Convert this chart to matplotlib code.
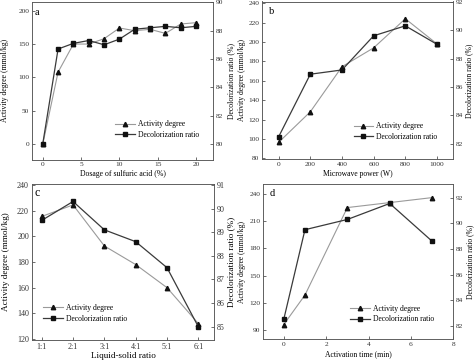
import numpy as np
import matplotlib
matplotlib.use("Agg")
import matplotlib.pyplot as plt

plt.rcParams["font.family"] = ["Liberation Serif", "DejaVu Serif"]

# a - dosage of sulfuric acid
acid_dose = [0, 2, 4, 6, 8, 10, 12, 14, 16, 18, 20]
acid_activity = [0, 108, 150, 150, 158, 174, 170, 172, 166, 180, 182]
acid_decolor = [80.0, 86.7, 87.1, 87.3, 87.0, 87.4, 88.1, 88.2, 88.3, 88.2, 88.3]

# b - microwave power
power = [0, 200, 400, 600, 800, 1000]
power_activity = [96.5, 128, 174.5, 194, 224, 198]
power_decolor = [82.5, 86.9, 87.2, 89.6, 90.3, 89.0]

# c - liquid-solid ratio
ratio_labels = ["1:1", "2:1", "3:1", "4:1", "5:1", "6:1"]
ratio_activity = [215.5, 224.5, 192.5, 178, 160, 132]
ratio_decolor = [89.5, 90.3, 89.1, 88.6, 87.5, 85.0]

# d - activation time
act_time = [0, 1, 3, 5, 7]
time_activity = [96, 128.5, 225, 230.5, 236]
time_decolor = [82.5, 89.5, 90.3, 91.55, 88.6]

W, H = 474, 361
fig = plt.figure(figsize=(W / 100, H / 100), dpi=100)


def panel(box, x, act, dec, xlim, ylim, y2lim, xticks, yticks, y2ticks,
          xlabel, letter, letter_xy, leg_xy, ylab_x, fs_tick, fs_lab,
          xticklabels=None, xpad=2):
    L, R, T, B = box
    ax = fig.add_axes([L / W, (H - B) / H, (R - L) / W, (B - T) / H])
    ax2 = ax.twinx()
    l1, = ax.plot(x, act, color="#9a9a9a", lw=0.8, marker="^", ms=3.2,
                  mfc="#111111", mec="#111111", label="Activity degree")
    l2, = ax2.plot(x, dec, color="#3a3a3a", lw=0.9, marker="s", ms=2.7,
                   mfc="#111111", mec="#111111", label="Decolorization ratio")
    ax.set_xlim(*xlim)
    ax.set_ylim(*ylim)
    ax2.set_ylim(*y2lim)
    ax.set_xticks(xticks)
    if xticklabels is not None:
        ax.set_xticklabels(xticklabels)
    ax.set_yticks(yticks)
    ax2.set_yticks(y2ticks)
    for a in (ax, ax2):
        a.tick_params(labelsize=fs_tick, direction="in", length=2, width=0.5,
                      pad=2, colors="#333333")
        for s in a.spines.values():
            s.set_linewidth(0.5)
            s.set_color("#555555")
    ax.set_xlabel(xlabel, fontsize=fs_lab, labelpad=xpad)
    ax.set_ylabel("Activity degree (mmol/kg)", fontsize=fs_lab)
    ax2.set_ylabel("Decolorization ratio (%)", fontsize=fs_lab)
    ax.yaxis.set_label_coords(ylab_x[0], 0.5)
    ax2.yaxis.set_label_coords(ylab_x[1], 0.5)
    ax2.text(letter_xy[0], letter_xy[1], letter, transform=ax.transAxes,
             fontsize=fs_lab + 2, va="center", ha="left")
    ax2.legend([l1, l2], ["Activity degree", "Decolorization ratio"],
               loc="upper left", bbox_to_anchor=leg_xy, frameon=False,
               fontsize=5.5, handlelength=2.6, handletextpad=0.4,
               labelspacing=0.35, borderpad=0, borderaxespad=0)


panel((32, 213, 2, 159.5), acid_dose, acid_activity, acid_decolor,
      (-1.4, 22.2), (-22.7, 212.9), (78.9, 90.02),
      [0, 5, 10, 15, 20], np.arange(0, 201, 50), np.arange(80, 91, 2),
      "Dosage of sulfuric acid (%)", "a", (0.012, 0.935), (0.459, 0.248),
      (-0.127, 1.081), 5.3, 5.6)

panel((262, 452.7, 1.5, 159.3), power, power_activity, power_decolor,
      (-105, 1099), (79, 241.8), (80.92, 92.01),
      np.arange(0, 1001, 200), np.arange(80, 241, 20), np.arange(82, 93, 2),
      "Microwave power (W)", "b", (0.037, 0.937), (0.48, 0.235),
      (-0.084, 1.065), 5.3, 5.5)

panel((31.7, 214.3, 184, 340), np.arange(len(ratio_labels)), ratio_activity, ratio_decolor,
      (-0.32, 5.51), (119.2, 240.8), (84.44, 91.04),
      np.arange(len(ratio_labels)), np.arange(120, 241, 20), np.arange(85, 92, 1),
      "Liquid-solid ratio", "c", (0.013, 0.942), (0.064, 0.231),
      (-0.119, 1.073), 5.8, 6.6, xticklabels=ratio_labels, xpad=1)

panel((263, 453.3, 184, 339.3), act_time, time_activity, time_decolor,
      (-0.98, 8), (79.7, 251), (80.94, 93.07),
      np.arange(0, 9, 2), np.arange(90, 241, 30), np.arange(82, 93, 2),
      "Activation time (min)", "d", (0.037, 0.939), (0.457, 0.224),
      (-0.089, 1.067), 5.3, 5.5)

fig.savefig("out.png", dpi=100)
